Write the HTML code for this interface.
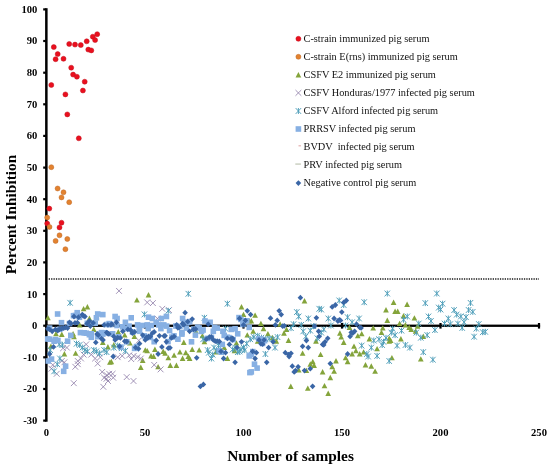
<!DOCTYPE html><html><head><meta charset="utf-8"><title>chart</title><style>html,body{margin:0;padding:0;background:#fff}svg{display:block}text{font-family:"Liberation Serif",serif}</style></head><body>
<svg width="550" height="468" viewBox="0 0 550 468">
<rect width="550" height="468" fill="#fff"/>
<defs>
<circle id="r" r="2.5" fill="#ea0f1e" stroke="#c0141f" stroke-width="0.5"/>
<circle id="o" r="2.5" fill="#e3822f" stroke="#bf6a2a" stroke-width="0.5"/>
<path id="g" d="M0-2.9L2.85 2.5H-2.85Z" fill="#84a43b"/>
<path id="x" d="M-2.9-2.9L2.9 2.9M-2.9 2.9L2.9-2.9" stroke="#8b7aa6" stroke-width="0.8" fill="none"/>
<path id="s" d="M-2.7-2.9L2.7 2.9M-2.7 2.9L2.7-2.9M0-3V3" stroke="#4d9db8" stroke-width="0.95" fill="none"/>
<rect id="q" x="-2.8" y="-2.8" width="5.6" height="5.6" fill="#87b0e3"/>
<path id="d" d="M0-2.9L2.8 0L0 2.9L-2.8 0Z" fill="#3a66a6"/>
</defs>
<line x1="48.7" y1="279" x2="539" y2="279" stroke="#1a1a1a" stroke-width="1.5" stroke-dasharray="1.3 1.1"/>
<rect x="45.1" y="8.2" width="2.5" height="413.5" fill="#000"/>
<rect x="45.1" y="324.6" width="495" height="2.3" fill="#000"/>
<rect x="43.2" y="419.5" width="3" height="2.2" fill="#000"/>
<text x="37.4" y="424.0" font-size="10.6" font-weight="bold" text-anchor="end">-30</text>
<rect x="43.2" y="387.9" width="3" height="2.2" fill="#000"/>
<text x="37.4" y="392.4" font-size="10.6" font-weight="bold" text-anchor="end">-20</text>
<rect x="43.2" y="356.2" width="3" height="2.2" fill="#000"/>
<text x="37.4" y="360.7" font-size="10.6" font-weight="bold" text-anchor="end">-10</text>
<rect x="43.2" y="324.6" width="3" height="2.2" fill="#000"/>
<text x="37.4" y="329.1" font-size="10.6" font-weight="bold" text-anchor="end">0</text>
<rect x="43.2" y="293.0" width="3" height="2.2" fill="#000"/>
<text x="37.4" y="297.5" font-size="10.6" font-weight="bold" text-anchor="end">10</text>
<rect x="43.2" y="261.3" width="3" height="2.2" fill="#000"/>
<text x="37.4" y="265.8" font-size="10.6" font-weight="bold" text-anchor="end">20</text>
<rect x="43.2" y="229.7" width="3" height="2.2" fill="#000"/>
<text x="37.4" y="234.2" font-size="10.6" font-weight="bold" text-anchor="end">30</text>
<rect x="43.2" y="198.1" width="3" height="2.2" fill="#000"/>
<text x="37.4" y="202.6" font-size="10.6" font-weight="bold" text-anchor="end">40</text>
<rect x="43.2" y="166.5" width="3" height="2.2" fill="#000"/>
<text x="37.4" y="171.0" font-size="10.6" font-weight="bold" text-anchor="end">50</text>
<rect x="43.2" y="134.8" width="3" height="2.2" fill="#000"/>
<text x="37.4" y="139.3" font-size="10.6" font-weight="bold" text-anchor="end">60</text>
<rect x="43.2" y="103.2" width="3" height="2.2" fill="#000"/>
<text x="37.4" y="107.7" font-size="10.6" font-weight="bold" text-anchor="end">70</text>
<rect x="43.2" y="71.6" width="3" height="2.2" fill="#000"/>
<text x="37.4" y="76.1" font-size="10.6" font-weight="bold" text-anchor="end">80</text>
<rect x="43.2" y="39.9" width="3" height="2.2" fill="#000"/>
<text x="37.4" y="44.4" font-size="10.6" font-weight="bold" text-anchor="end">90</text>
<rect x="43.2" y="8.3" width="3" height="2.2" fill="#000"/>
<text x="37.4" y="12.8" font-size="10.6" font-weight="bold" text-anchor="end">100</text>
<text x="46.5" y="436.4" font-size="10.6" font-weight="bold" text-anchor="middle">0</text>
<rect x="143.9" y="323" width="2.2" height="5.6" fill="#000"/>
<text x="145.0" y="436.4" font-size="10.6" font-weight="bold" text-anchor="middle">50</text>
<rect x="242.4" y="323" width="2.2" height="5.6" fill="#000"/>
<text x="243.5" y="436.4" font-size="10.6" font-weight="bold" text-anchor="middle">100</text>
<rect x="340.9" y="323" width="2.2" height="5.6" fill="#000"/>
<text x="342.0" y="436.4" font-size="10.6" font-weight="bold" text-anchor="middle">150</text>
<rect x="439.4" y="323" width="2.2" height="5.6" fill="#000"/>
<text x="440.5" y="436.4" font-size="10.6" font-weight="bold" text-anchor="middle">200</text>
<rect x="537.9" y="323" width="2.2" height="5.6" fill="#000"/>
<text x="539.0" y="436.4" font-size="10.6" font-weight="bold" text-anchor="middle">250</text>
<text x="290.5" y="461.3" font-size="15.35" font-weight="bold" text-anchor="middle">Number of samples</text>
<text transform="translate(16.2,214.5) rotate(-90)" font-size="15.35" font-weight="bold" text-anchor="middle">Percent Inhibition</text>
<g><use href="#r" x="53.8" y="47.1"/><use href="#r" x="57.7" y="54.1"/><use href="#r" x="55.6" y="59.2"/><use href="#r" x="63.5" y="58.8"/><use href="#r" x="69.2" y="44.0"/><use href="#r" x="75.0" y="44.6"/><use href="#r" x="80.8" y="45.1"/><use href="#r" x="86.7" y="41.3"/><use href="#r" x="88.3" y="49.6"/><use href="#r" x="91.3" y="50.4"/><use href="#r" x="92.8" y="36.7"/><use href="#r" x="95.1" y="40.1"/><use href="#r" x="97.2" y="34.2"/><use href="#r" x="71.2" y="67.7"/><use href="#r" x="73.1" y="74.6"/><use href="#r" x="76.9" y="76.7"/><use href="#r" x="84.7" y="81.7"/><use href="#r" x="51.3" y="85.0"/><use href="#r" x="82.9" y="90.5"/><use href="#r" x="65.4" y="94.4"/><use href="#r" x="67.3" y="114.4"/><use href="#r" x="78.8" y="138.3"/><use href="#r" x="49.3" y="208.6"/><use href="#r" x="47.2" y="223.5"/><use href="#r" x="61.5" y="222.7"/><use href="#r" x="59.5" y="227.4"/></g>
<g><use href="#o" x="51.3" y="167.2"/><use href="#o" x="57.6" y="188.5"/><use href="#o" x="63.5" y="192.3"/><use href="#o" x="61.5" y="197.4"/><use href="#o" x="69.2" y="202.2"/><use href="#o" x="47.2" y="217.6"/><use href="#o" x="49.5" y="226.9"/><use href="#o" x="59.5" y="235.3"/><use href="#o" x="67.3" y="239.0"/><use href="#o" x="55.6" y="240.9"/><use href="#o" x="65.4" y="249.2"/></g>
<g><use href="#g" x="83.6" y="308.8"/><use href="#g" x="87.4" y="306.9"/><use href="#g" x="47.9" y="317.8"/><use href="#g" x="79.7" y="324.9"/><use href="#g" x="89.4" y="318.5"/><use href="#g" x="93.8" y="329.4"/><use href="#g" x="56.0" y="333.8"/><use href="#g" x="61.8" y="334.5"/><use href="#g" x="73.1" y="333.8"/><use href="#g" x="64.4" y="354.0"/><use href="#g" x="75.6" y="353.3"/><use href="#g" x="102.8" y="342.4"/><use href="#g" x="107.9" y="346.9"/><use href="#g" x="50.9" y="346.3"/><use href="#g" x="74.0" y="336.7"/><use href="#g" x="109.9" y="362.3"/><use href="#g" x="148.5" y="295.0"/><use href="#g" x="136.9" y="300.1"/><use href="#g" x="118.3" y="331.9"/><use href="#g" x="124.7" y="335.1"/><use href="#g" x="134.4" y="336.4"/><use href="#g" x="129.9" y="343.1"/><use href="#g" x="113.8" y="345.0"/><use href="#g" x="145.3" y="350.1"/><use href="#g" x="147.2" y="350.8"/><use href="#g" x="154.9" y="349.5"/><use href="#g" x="151.0" y="355.9"/><use href="#g" x="153.6" y="356.5"/><use href="#g" x="163.2" y="351.4"/><use href="#g" x="165.1" y="353.3"/><use href="#g" x="142.7" y="360.4"/><use href="#g" x="140.8" y="367.4"/><use href="#g" x="111.3" y="361.7"/><use href="#g" x="168.3" y="357.8"/><use href="#g" x="174.1" y="355.3"/><use href="#g" x="170.3" y="365.5"/><use href="#g" x="176.4" y="365.5"/><use href="#g" x="158.1" y="366.8"/><use href="#g" x="179.9" y="352.1"/><use href="#g" x="241.5" y="306.9"/><use href="#g" x="243.5" y="314.6"/><use href="#g" x="196.0" y="331.3"/><use href="#g" x="202.4" y="335.8"/><use href="#g" x="247.3" y="335.1"/><use href="#g" x="249.2" y="321.0"/><use href="#g" x="183.8" y="342.4"/><use href="#g" x="192.2" y="349.5"/><use href="#g" x="199.2" y="350.1"/><use href="#g" x="185.8" y="352.7"/><use href="#g" x="188.3" y="356.5"/><use href="#g" x="182.6" y="358.5"/><use href="#g" x="189.6" y="358.5"/><use href="#g" x="204.4" y="341.8"/><use href="#g" x="224.2" y="347.6"/><use href="#g" x="236.4" y="343.1"/><use href="#g" x="234.5" y="350.8"/><use href="#g" x="227.4" y="358.5"/><use href="#g" x="215.9" y="352.1"/><use href="#g" x="304.5" y="300.9"/><use href="#g" x="255.1" y="315.3"/><use href="#g" x="251.3" y="321.0"/><use href="#g" x="260.9" y="323.6"/><use href="#g" x="263.5" y="328.7"/><use href="#g" x="253.2" y="331.3"/><use href="#g" x="280.1" y="324.2"/><use href="#g" x="286.5" y="329.4"/><use href="#g" x="284.0" y="333.2"/><use href="#g" x="267.9" y="333.8"/><use href="#g" x="272.4" y="337.7"/><use href="#g" x="257.7" y="341.2"/><use href="#g" x="276.3" y="341.2"/><use href="#g" x="288.5" y="340.5"/><use href="#g" x="302.6" y="353.3"/><use href="#g" x="316.0" y="341.2"/><use href="#g" x="312.8" y="361.7"/><use href="#g" x="310.3" y="364.2"/><use href="#g" x="314.1" y="365.5"/><use href="#g" x="298.7" y="370.0"/><use href="#g" x="306.4" y="370.6"/><use href="#g" x="386.0" y="309.9"/><use href="#g" x="387.3" y="320.4"/><use href="#g" x="373.2" y="328.1"/><use href="#g" x="382.8" y="328.1"/><use href="#g" x="381.5" y="332.6"/><use href="#g" x="339.9" y="333.2"/><use href="#g" x="341.2" y="337.1"/><use href="#g" x="361.7" y="333.8"/><use href="#g" x="357.8" y="335.8"/><use href="#g" x="389.2" y="338.3"/><use href="#g" x="369.4" y="339.0"/><use href="#g" x="349.5" y="327.4"/><use href="#g" x="343.7" y="342.4"/><use href="#g" x="354.0" y="346.3"/><use href="#g" x="355.9" y="350.8"/><use href="#g" x="352.1" y="354.0"/><use href="#g" x="359.7" y="354.0"/><use href="#g" x="363.6" y="352.1"/><use href="#g" x="345.6" y="357.8"/><use href="#g" x="347.6" y="361.7"/><use href="#g" x="336.0" y="361.0"/><use href="#g" x="332.2" y="366.8"/><use href="#g" x="334.1" y="371.3"/><use href="#g" x="322.6" y="371.9"/><use href="#g" x="320.6" y="354.6"/><use href="#g" x="330.3" y="377.7"/><use href="#g" x="365.5" y="364.9"/><use href="#g" x="371.3" y="366.2"/><use href="#g" x="375.1" y="371.3"/><use href="#g" x="377.1" y="348.8"/><use href="#g" x="389.2" y="341.2"/><use href="#g" x="393.6" y="302.4"/><use href="#g" x="407.1" y="304.4"/><use href="#g" x="395.1" y="311.4"/><use href="#g" x="397.7" y="311.4"/><use href="#g" x="403.5" y="315.9"/><use href="#g" x="414.4" y="318.1"/><use href="#g" x="399.6" y="323.6"/><use href="#g" x="405.4" y="324.9"/><use href="#g" x="409.2" y="327.4"/><use href="#g" x="411.2" y="329.4"/><use href="#g" x="417.6" y="326.2"/><use href="#g" x="423.3" y="336.4"/><use href="#g" x="400.9" y="339.0"/><use href="#g" x="415.6" y="331.3"/><use href="#g" x="390.6" y="340.5"/><use href="#g" x="391.9" y="357.8"/><use href="#g" x="420.8" y="359.1"/><use href="#g" x="290.8" y="386.5"/><use href="#g" x="307.8" y="388.3"/><use href="#g" x="324.5" y="385.8"/><use href="#g" x="328.2" y="393.4"/></g>
<g><use href="#x" x="63.1" y="348.2"/><use href="#x" x="66.9" y="347.6"/><use href="#x" x="86.2" y="344.4"/><use href="#x" x="83.6" y="354.6"/><use href="#x" x="81.0" y="358.5"/><use href="#x" x="77.8" y="361.0"/><use href="#x" x="75.3" y="366.8"/><use href="#x" x="77.8" y="364.2"/><use href="#x" x="91.3" y="354.6"/><use href="#x" x="95.1" y="358.5"/><use href="#x" x="97.7" y="363.6"/><use href="#x" x="100.3" y="357.2"/><use href="#x" x="61.8" y="361.0"/><use href="#x" x="64.4" y="362.3"/><use href="#x" x="52.8" y="364.9"/><use href="#x" x="51.5" y="368.7"/><use href="#x" x="56.7" y="373.8"/><use href="#x" x="102.2" y="371.9"/><use href="#x" x="106.7" y="375.1"/><use href="#x" x="109.2" y="373.8"/><use href="#x" x="104.1" y="377.7"/><use href="#x" x="119.0" y="290.9"/><use href="#x" x="147.2" y="302.4"/><use href="#x" x="152.9" y="303.1"/><use href="#x" x="162.3" y="308.8"/><use href="#x" x="169.0" y="310.1"/><use href="#x" x="157.4" y="318.5"/><use href="#x" x="117.7" y="357.2"/><use href="#x" x="122.2" y="355.9"/><use href="#x" x="129.2" y="355.3"/><use href="#x" x="133.7" y="355.9"/><use href="#x" x="131.2" y="359.1"/><use href="#x" x="137.6" y="357.2"/><use href="#x" x="138.8" y="340.5"/><use href="#x" x="154.2" y="364.9"/><use href="#x" x="160.6" y="369.4"/><use href="#x" x="112.6" y="373.8"/><use href="#x" x="113.2" y="377.7"/><use href="#x" x="126.7" y="377.1"/><use href="#x" x="140.8" y="358.5"/><use href="#x" x="73.8" y="383.2"/><use href="#x" x="103.3" y="386.8"/><use href="#x" x="108.0" y="381.0"/><use href="#x" x="106.5" y="378.8"/><use href="#x" x="133.5" y="381.0"/></g>
<g><use href="#s" x="70.1" y="302.8"/><use href="#s" x="62.4" y="345.0"/><use href="#s" x="76.5" y="343.7"/><use href="#s" x="79.7" y="345.0"/><use href="#s" x="82.3" y="347.6"/><use href="#s" x="84.9" y="350.1"/><use href="#s" x="87.4" y="351.4"/><use href="#s" x="93.8" y="350.1"/><use href="#s" x="96.4" y="351.4"/><use href="#s" x="99.6" y="353.3"/><use href="#s" x="104.1" y="350.1"/><use href="#s" x="106.7" y="352.1"/><use href="#s" x="59.9" y="358.5"/><use href="#s" x="57.3" y="364.2"/><use href="#s" x="54.1" y="371.3"/><use href="#s" x="59.2" y="344.4"/><use href="#s" x="50.3" y="350.1"/><use href="#s" x="168.3" y="310.8"/><use href="#s" x="144.4" y="314.4"/><use href="#s" x="121.5" y="348.2"/><use href="#s" x="125.4" y="350.8"/><use href="#s" x="113.8" y="347.6"/><use href="#s" x="117.7" y="345.6"/><use href="#s" x="188.3" y="293.8"/><use href="#s" x="227.4" y="303.7"/><use href="#s" x="204.4" y="317.8"/><use href="#s" x="225.5" y="328.7"/><use href="#s" x="208.8" y="352.7"/><use href="#s" x="211.4" y="358.5"/><use href="#s" x="214.0" y="347.6"/><use href="#s" x="216.5" y="350.8"/><use href="#s" x="218.5" y="345.6"/><use href="#s" x="232.6" y="349.5"/><use href="#s" x="237.7" y="352.1"/><use href="#s" x="240.9" y="349.5"/><use href="#s" x="243.5" y="347.6"/><use href="#s" x="246.7" y="343.7"/><use href="#s" x="203.1" y="339.2"/><use href="#s" x="296.8" y="312.1"/><use href="#s" x="298.7" y="316.5"/><use href="#s" x="308.3" y="318.5"/><use href="#s" x="293.6" y="324.2"/><use href="#s" x="301.3" y="324.9"/><use href="#s" x="291.0" y="328.1"/><use href="#s" x="303.2" y="331.3"/><use href="#s" x="310.3" y="330.6"/><use href="#s" x="305.8" y="336.4"/><use href="#s" x="319.2" y="308.8"/><use href="#s" x="313.5" y="326.2"/><use href="#s" x="257.7" y="335.8"/><use href="#s" x="253.8" y="337.1"/><use href="#s" x="261.5" y="337.7"/><use href="#s" x="277.6" y="337.1"/><use href="#s" x="317.3" y="338.3"/><use href="#s" x="275.0" y="347.6"/><use href="#s" x="265.4" y="354.0"/><use href="#s" x="339.2" y="300.5"/><use href="#s" x="343.7" y="305.0"/><use href="#s" x="364.2" y="302.2"/><use href="#s" x="387.3" y="293.5"/><use href="#s" x="321.3" y="309.5"/><use href="#s" x="328.3" y="318.5"/><use href="#s" x="347.6" y="317.2"/><use href="#s" x="359.1" y="318.5"/><use href="#s" x="352.1" y="322.3"/><use href="#s" x="330.9" y="325.5"/><use href="#s" x="323.8" y="329.4"/><use href="#s" x="321.3" y="332.6"/><use href="#s" x="345.6" y="325.5"/><use href="#s" x="361.7" y="345.6"/><use href="#s" x="371.3" y="347.6"/><use href="#s" x="366.8" y="354.0"/><use href="#s" x="368.1" y="356.5"/><use href="#s" x="377.1" y="355.9"/><use href="#s" x="373.8" y="340.5"/><use href="#s" x="379.0" y="339.2"/><use href="#s" x="383.5" y="341.8"/><use href="#s" x="386.0" y="337.9"/><use href="#s" x="389.2" y="361.0"/><use href="#s" x="382.2" y="345.0"/><use href="#s" x="436.8" y="293.5"/><use href="#s" x="425.3" y="303.1"/><use href="#s" x="442.6" y="303.7"/><use href="#s" x="438.7" y="307.6"/><use href="#s" x="440.6" y="309.5"/><use href="#s" x="454.1" y="310.1"/><use href="#s" x="407.3" y="316.5"/><use href="#s" x="428.5" y="316.5"/><use href="#s" x="456.7" y="314.6"/><use href="#s" x="448.3" y="318.5"/><use href="#s" x="431.0" y="321.0"/><use href="#s" x="418.8" y="323.6"/><use href="#s" x="444.5" y="323.6"/><use href="#s" x="450.3" y="324.2"/><use href="#s" x="457.9" y="323.6"/><use href="#s" x="392.6" y="328.7"/><use href="#s" x="401.5" y="330.6"/><use href="#s" x="434.9" y="330.0"/><use href="#s" x="416.3" y="332.6"/><use href="#s" x="427.2" y="335.1"/><use href="#s" x="395.1" y="335.1"/><use href="#s" x="391.3" y="332.6"/><use href="#s" x="420.8" y="337.7"/><use href="#s" x="403.5" y="319.7"/><use href="#s" x="397.1" y="345.6"/><use href="#s" x="405.4" y="345.0"/><use href="#s" x="409.9" y="347.6"/><use href="#s" x="423.3" y="352.1"/><use href="#s" x="432.9" y="359.7"/><use href="#s" x="470.5" y="302.9"/><use href="#s" x="468.6" y="310.0"/><use href="#s" x="472.8" y="311.9"/><use href="#s" x="460.9" y="316.4"/><use href="#s" x="466.0" y="317.1"/><use href="#s" x="464.1" y="322.2"/><use href="#s" x="478.8" y="324.1"/><use href="#s" x="476.3" y="328.6"/><use href="#s" x="462.2" y="327.9"/><use href="#s" x="482.7" y="332.2"/><use href="#s" x="485.3" y="331.8"/><use href="#s" x="474.1" y="336.7"/><use href="#s" x="207.6" y="350.1"/><use href="#s" x="212.7" y="354.6"/><use href="#s" x="235.1" y="347.6"/><use href="#s" x="239.6" y="351.4"/><use href="#s" x="244.7" y="350.1"/><use href="#s" x="265.4" y="339.2"/><use href="#s" x="269.2" y="338.6"/><use href="#s" x="273.1" y="339.2"/><use href="#s" x="250.3" y="339.2"/></g>
<g><use href="#q" x="57.6" y="314.0"/><use href="#q" x="61.5" y="322.7"/><use href="#q" x="77.2" y="312.7"/><use href="#q" x="97.7" y="314.0"/><use href="#q" x="102.8" y="314.6"/><use href="#q" x="96.4" y="317.8"/><use href="#q" x="80.4" y="332.6"/><use href="#q" x="86.2" y="333.2"/><use href="#q" x="91.3" y="333.8"/><use href="#q" x="101.5" y="332.6"/><use href="#q" x="109.2" y="323.6"/><use href="#q" x="49.6" y="328.1"/><use href="#q" x="47.7" y="339.0"/><use href="#q" x="55.4" y="339.6"/><use href="#q" x="49.6" y="339.2"/><use href="#q" x="54.1" y="341.2"/><use href="#q" x="57.9" y="340.5"/><use href="#q" x="67.6" y="341.2"/><use href="#q" x="70.8" y="335.4"/><use href="#q" x="84.2" y="332.8"/><use href="#q" x="89.4" y="334.7"/><use href="#q" x="91.3" y="337.3"/><use href="#q" x="97.7" y="336.7"/><use href="#q" x="102.8" y="334.1"/><use href="#q" x="51.5" y="359.1"/><use href="#q" x="65.6" y="366.2"/><use href="#q" x="63.7" y="371.3"/><use href="#q" x="48.3" y="361.0"/><use href="#q" x="115.1" y="316.5"/><use href="#q" x="117.1" y="318.5"/><use href="#q" x="131.2" y="317.8"/><use href="#q" x="125.4" y="322.3"/><use href="#q" x="122.8" y="326.8"/><use href="#q" x="137.6" y="324.9"/><use href="#q" x="142.1" y="325.5"/><use href="#q" x="147.2" y="324.9"/><use href="#q" x="148.5" y="317.2"/><use href="#q" x="152.3" y="318.5"/><use href="#q" x="161.3" y="318.5"/><use href="#q" x="166.4" y="316.5"/><use href="#q" x="158.7" y="324.9"/><use href="#q" x="163.8" y="324.9"/><use href="#q" x="156.2" y="322.3"/><use href="#q" x="169.6" y="330.6"/><use href="#q" x="112.6" y="333.8"/><use href="#q" x="139.5" y="331.3"/><use href="#q" x="177.9" y="339.2"/><use href="#q" x="182.6" y="318.5"/><use href="#q" x="205.0" y="321.0"/><use href="#q" x="210.1" y="322.3"/><use href="#q" x="199.2" y="328.1"/><use href="#q" x="203.1" y="330.0"/><use href="#q" x="214.6" y="327.4"/><use href="#q" x="217.2" y="328.1"/><use href="#q" x="222.9" y="331.3"/><use href="#q" x="231.3" y="329.4"/><use href="#q" x="235.1" y="328.7"/><use href="#q" x="237.7" y="333.8"/><use href="#q" x="195.4" y="335.1"/><use href="#q" x="186.4" y="328.1"/><use href="#q" x="181.9" y="332.6"/><use href="#q" x="213.3" y="331.3"/><use href="#q" x="249.2" y="327.4"/><use href="#q" x="191.5" y="341.8"/><use href="#q" x="224.2" y="335.4"/><use href="#q" x="222.3" y="344.4"/><use href="#q" x="181.9" y="334.1"/><use href="#q" x="249.2" y="355.9"/><use href="#q" x="249.9" y="372.6"/><use href="#q" x="254.5" y="364.2"/><use href="#q" x="257.1" y="368.1"/><use href="#q" x="251.3" y="371.9"/><use href="#q" x="251.3" y="354.6"/><use href="#q" x="117.0" y="325.5"/><use href="#q" x="129.1" y="326.1"/><use href="#q" x="151.3" y="325.5"/><use href="#q" x="166.6" y="326.1"/><use href="#q" x="125.3" y="328.6"/><use href="#q" x="139.3" y="328.0"/><use href="#q" x="148.2" y="328.6"/><use href="#q" x="160.9" y="328.6"/><use href="#q" x="59.7" y="329.3"/><use href="#q" x="69.5" y="323.5"/><use href="#q" x="73.5" y="315.7"/><use href="#q" x="75.5" y="315.5"/><use href="#q" x="79.4" y="317.3"/><use href="#q" x="87.3" y="323.3"/><use href="#q" x="93.2" y="323.3"/><use href="#q" x="95.2" y="323.2"/><use href="#q" x="99.1" y="334.0"/><use href="#q" x="105.0" y="332.8"/><use href="#q" x="107.0" y="324.5"/><use href="#q" x="110.9" y="324.5"/><use href="#q" x="118.8" y="336.9"/><use href="#q" x="120.8" y="347.1"/><use href="#q" x="126.7" y="341.8"/><use href="#q" x="132.6" y="332.1"/><use href="#q" x="134.6" y="348.4"/><use href="#q" x="136.5" y="346.6"/><use href="#q" x="144.4" y="335.9"/><use href="#q" x="150.3" y="337.4"/><use href="#q" x="154.2" y="341.7"/><use href="#q" x="168.0" y="341.6"/><use href="#q" x="172.0" y="337.1"/><use href="#q" x="174.0" y="335.9"/><use href="#q" x="175.9" y="326.0"/><use href="#q" x="179.9" y="326.5"/><use href="#q" x="183.8" y="322.4"/><use href="#q" x="187.7" y="322.4"/><use href="#q" x="189.7" y="321.6"/><use href="#q" x="193.7" y="329.1"/><use href="#q" x="197.6" y="327.2"/><use href="#q" x="201.5" y="331.4"/><use href="#q" x="207.4" y="338.4"/><use href="#q" x="211.4" y="337.4"/><use href="#q" x="219.3" y="350.8"/><use href="#q" x="221.2" y="352.2"/><use href="#q" x="227.1" y="337.3"/><use href="#q" x="229.1" y="337.6"/><use href="#q" x="233.1" y="339.6"/><use href="#q" x="239.0" y="317.6"/><use href="#q" x="240.9" y="319.4"/><use href="#q" x="242.9" y="324.4"/><use href="#q" x="244.9" y="320.9"/><use href="#q" x="246.8" y="320.8"/><use href="#q" x="252.8" y="351.6"/><use href="#q" x="258.7" y="338.8"/><use href="#q" x="260.6" y="338.8"/><use href="#q" x="262.6" y="343.4"/><use href="#q" x="264.6" y="340.7"/></g>
<g><use href="#d" x="74.0" y="316.5"/><use href="#d" x="78.5" y="317.2"/><use href="#d" x="82.3" y="314.6"/><use href="#d" x="84.9" y="316.5"/><use href="#d" x="89.4" y="321.0"/><use href="#d" x="93.2" y="322.9"/><use href="#d" x="70.8" y="323.6"/><use href="#d" x="67.6" y="328.1"/><use href="#d" x="63.7" y="328.1"/><use href="#d" x="59.2" y="329.4"/><use href="#d" x="55.4" y="329.4"/><use href="#d" x="49.6" y="329.4"/><use href="#d" x="52.2" y="331.3"/><use href="#d" x="104.1" y="324.9"/><use href="#d" x="107.9" y="324.9"/><use href="#d" x="98.3" y="335.1"/><use href="#d" x="106.7" y="332.6"/><use href="#d" x="95.8" y="342.4"/><use href="#d" x="101.5" y="338.6"/><use href="#d" x="107.9" y="333.5"/><use href="#d" x="53.5" y="346.9"/><use href="#d" x="49.6" y="354.0"/><use href="#d" x="116.4" y="322.3"/><use href="#d" x="111.9" y="324.2"/><use href="#d" x="127.9" y="329.4"/><use href="#d" x="122.8" y="331.3"/><use href="#d" x="132.4" y="333.2"/><use href="#d" x="117.7" y="337.7"/><use href="#d" x="113.8" y="336.4"/><use href="#d" x="142.7" y="335.1"/><use href="#d" x="148.5" y="336.4"/><use href="#d" x="154.2" y="331.9"/><use href="#d" x="159.4" y="335.8"/><use href="#d" x="165.1" y="335.8"/><use href="#d" x="176.7" y="324.9"/><use href="#d" x="179.2" y="327.4"/><use href="#d" x="174.1" y="336.4"/><use href="#d" x="171.5" y="337.9"/><use href="#d" x="147.8" y="337.9"/><use href="#d" x="145.3" y="339.9"/><use href="#d" x="156.2" y="340.5"/><use href="#d" x="166.4" y="341.8"/><use href="#d" x="139.5" y="343.7"/><use href="#d" x="135.6" y="347.6"/><use href="#d" x="161.9" y="346.9"/><use href="#d" x="168.3" y="348.2"/><use href="#d" x="158.1" y="354.0"/><use href="#d" x="115.1" y="339.9"/><use href="#d" x="120.3" y="337.9"/><use href="#d" x="124.7" y="341.2"/><use href="#d" x="113.2" y="356.5"/><use href="#d" x="119.6" y="346.3"/><use href="#d" x="185.1" y="312.7"/><use href="#d" x="192.2" y="319.1"/><use href="#d" x="187.7" y="321.7"/><use href="#d" x="182.6" y="323.6"/><use href="#d" x="208.2" y="324.2"/><use href="#d" x="239.6" y="318.5"/><use href="#d" x="245.4" y="320.4"/><use href="#d" x="247.3" y="310.8"/><use href="#d" x="243.5" y="324.9"/><use href="#d" x="189.6" y="331.3"/><use href="#d" x="193.5" y="329.4"/><use href="#d" x="209.5" y="337.1"/><use href="#d" x="227.4" y="338.3"/><use href="#d" x="232.6" y="338.3"/><use href="#d" x="206.3" y="339.2"/><use href="#d" x="213.3" y="339.9"/><use href="#d" x="217.2" y="341.2"/><use href="#d" x="232.6" y="339.9"/><use href="#d" x="229.4" y="344.4"/><use href="#d" x="241.5" y="341.8"/><use href="#d" x="237.1" y="347.6"/><use href="#d" x="221.0" y="351.4"/><use href="#d" x="225.5" y="352.7"/><use href="#d" x="196.7" y="357.8"/><use href="#d" x="223.6" y="358.5"/><use href="#d" x="235.1" y="362.3"/><use href="#d" x="300.4" y="297.7"/><use href="#d" x="279.2" y="310.8"/><use href="#d" x="281.2" y="314.6"/><use href="#d" x="270.5" y="318.2"/><use href="#d" x="277.2" y="320.4"/><use href="#d" x="275.4" y="324.9"/><use href="#d" x="282.7" y="326.2"/><use href="#d" x="250.6" y="314.6"/><use href="#d" x="316.4" y="317.8"/><use href="#d" x="314.7" y="326.2"/><use href="#d" x="318.6" y="331.3"/><use href="#d" x="319.2" y="336.4"/><use href="#d" x="259.0" y="339.9"/><use href="#d" x="264.1" y="339.9"/><use href="#d" x="260.9" y="343.7"/><use href="#d" x="273.1" y="341.8"/><use href="#d" x="268.6" y="347.6"/><use href="#d" x="252.6" y="351.4"/><use href="#d" x="256.4" y="352.7"/><use href="#d" x="255.1" y="358.5"/><use href="#d" x="266.7" y="362.3"/><use href="#d" x="285.3" y="352.7"/><use href="#d" x="288.5" y="354.6"/><use href="#d" x="291.0" y="353.3"/><use href="#d" x="289.1" y="356.5"/><use href="#d" x="306.4" y="340.5"/><use href="#d" x="302.6" y="346.3"/><use href="#d" x="308.3" y="347.6"/><use href="#d" x="292.3" y="366.2"/><use href="#d" x="298.1" y="366.8"/><use href="#d" x="295.5" y="370.6"/><use href="#d" x="294.2" y="371.9"/><use href="#d" x="304.5" y="370.6"/><use href="#d" x="310.3" y="368.7"/><use href="#d" x="346.3" y="300.5"/><use href="#d" x="343.7" y="302.4"/><use href="#d" x="335.4" y="305.0"/><use href="#d" x="332.2" y="306.9"/><use href="#d" x="341.8" y="312.1"/><use href="#d" x="334.1" y="318.5"/><use href="#d" x="337.9" y="321.0"/><use href="#d" x="340.5" y="320.4"/><use href="#d" x="356.5" y="324.2"/><use href="#d" x="359.7" y="327.4"/><use href="#d" x="354.6" y="331.3"/><use href="#d" x="352.7" y="333.2"/><use href="#d" x="350.1" y="336.4"/><use href="#d" x="327.7" y="338.3"/><use href="#d" x="325.1" y="341.8"/><use href="#d" x="322.6" y="344.4"/><use href="#d" x="347.6" y="354.0"/><use href="#d" x="330.3" y="363.6"/><use href="#d" x="75.0" y="322.9"/><use href="#d" x="87.1" y="323.5"/><use href="#d" x="90.3" y="326.1"/><use href="#d" x="200.4" y="386.4"/><use href="#d" x="203.4" y="384.4"/><use href="#d" x="312.6" y="386.3"/><use href="#d" x="47.9" y="328.8"/><use href="#d" x="57.7" y="330.7"/><use href="#d" x="61.7" y="328.6"/><use href="#d" x="65.6" y="327.4"/><use href="#d" x="69.5" y="322.3"/><use href="#d" x="77.4" y="322.7"/><use href="#d" x="83.3" y="315.8"/><use href="#d" x="97.1" y="334.0"/><use href="#d" x="103.0" y="340.0"/><use href="#d" x="108.9" y="333.9"/><use href="#d" x="110.9" y="324.8"/><use href="#d" x="126.7" y="341.5"/><use href="#d" x="130.6" y="330.1"/><use href="#d" x="134.6" y="331.9"/><use href="#d" x="138.5" y="348.8"/><use href="#d" x="146.4" y="337.5"/><use href="#d" x="150.3" y="336.6"/><use href="#d" x="152.3" y="333.2"/><use href="#d" x="164.1" y="336.0"/><use href="#d" x="170.0" y="347.8"/><use href="#d" x="177.9" y="327.8"/><use href="#d" x="183.8" y="324.7"/><use href="#d" x="195.6" y="329.1"/><use href="#d" x="211.4" y="336.9"/><use href="#d" x="215.3" y="341.2"/><use href="#d" x="219.3" y="341.5"/><use href="#d" x="231.1" y="338.7"/><use href="#d" x="262.6" y="344.2"/><use href="#d" x="284.3" y="325.8"/><use href="#d" x="323.7" y="344.9"/><use href="#d" x="339.4" y="319.9"/><use href="#d" x="351.2" y="332.4"/><use href="#d" x="361.1" y="327.9"/></g>
<text x="303.5" y="41.8" font-size="10.33" fill="#111" style="white-space:pre">C-strain immunized pig serum</text>
<use href="#r" x="298.4" y="38.8"/>
<text x="303.5" y="59.8" font-size="10.33" fill="#111" style="white-space:pre">C-strain E(rns) immunized pig serum</text>
<use href="#o" x="298.4" y="56.8"/>
<text x="303.5" y="77.9" font-size="10.33" fill="#111" style="white-space:pre">CSFV E2 immunized pig serum</text>
<use href="#g" x="298.4" y="74.9"/>
<text x="303.5" y="95.9" font-size="10.33" fill="#111" style="white-space:pre">CSFV Honduras/1977 infected pig serum</text>
<use href="#x" x="298.4" y="92.9"/>
<text x="303.5" y="114.0" font-size="10.33" fill="#111" style="white-space:pre">CSFV Alford infected pig serum</text>
<use href="#s" x="298.4" y="111.0"/>
<text x="303.5" y="132.0" font-size="10.33" fill="#111" style="white-space:pre">PRRSV infected pig serum</text>
<use href="#q" x="298.4" y="129.0"/>
<text x="303.5" y="150.0" font-size="10.33" fill="#111" style="white-space:pre">BVDV  infected pig serum</text>
<text x="303.5" y="168.1" font-size="10.33" fill="#111" style="white-space:pre">PRV infected pig serum</text>
<text x="303.5" y="186.1" font-size="10.33" fill="#111" style="white-space:pre">Negative control pig serum</text>
<use href="#d" x="298.4" y="183.1"/>
<rect x="298.5" y="145.4" width="2.4" height="0.9" fill="#d99694"/>
<rect x="295.3" y="163.6" width="5.6" height="0.9" fill="#a9b29a"/>
</svg></body></html>
